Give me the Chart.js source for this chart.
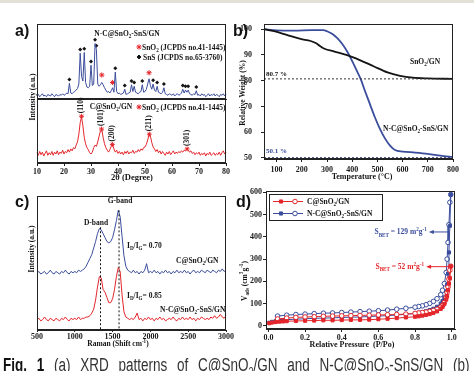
<!DOCTYPE html>
<html>
<head>
<meta charset="utf-8">
<script src="https://cdn.jsdelivr.net/npm/chart.js@4.4.1/dist/chart.umd.min.js"></script>
<style>
  html, body { margin: 0; padding: 0; background: #fff; }
  #page { position: relative; width: 474px; height: 371px; overflow: hidden; background: #fff; }
  #page canvas { position: absolute; left: 0; top: 0; }
  .band { position: absolute; left: 0; top: 0; width: 474px; height: 3px; background: #e3e0d8; }
  .tag { position: absolute; font: bold 16px "Liberation Sans", Arial, sans-serif; color: #111; line-height: 16px; }
  .caption { position: absolute; left: 3px; top: 356px; white-space: nowrap; font: 18px "Liberation Sans", Arial, sans-serif;
             color: #333; line-height: 18px; word-spacing: 8px; transform: scaleX(0.75); transform-origin: 0 0; }
  .caption b { color: #111; }
  .caption sub { font-size: 12px; }
</style>
</head>
<body>
<div id="page">
  <div class="band"></div>
  <canvas id="chartA1" width="474" height="371"></canvas>
  <canvas id="chartA2" width="474" height="371"></canvas>
  <canvas id="chartB" width="474" height="371"></canvas>
  <canvas id="chartC" width="474" height="371"></canvas>
  <canvas id="chartD" width="474" height="371"></canvas>
  <div class="tag" style="left:15px;top:23px">a)</div>
  <div class="tag" style="left:233px;top:23px">b)</div>
  <div class="tag" style="left:15px;top:194px">c)</div>
  <div class="tag" style="left:236px;top:194px">d)</div>
  <div class="caption"><b>Fig. 1</b> (a) XRD patterns of C@SnO<sub>2</sub>/GN and N-C@SnO<sub>2</sub>-SnS/GN (b)</div>
</div>
<script>
// ---------- data ----------
// (a) XRD, 2theta in degrees
const xrdAngle = [
  10,10.5,11,11.5,12,12.5,13,13.5,14,14.5,
  15,15.5,16,16.5,17,17.5,18,18.5,19,19.5,
  20,20.5,21,21.5,22,22.5,23,23.5,24,24.5,
  25,25.5,26,26.5,27,27.5,28,28.5,29,29.5,
  30,30.5,31,31.5,32,32.5,33,33.5,34,34.5,
  35,35.5,36,36.5,37,37.5,38,38.5,39,39.5,
  40,40.5,41,41.5,42,42.5,43,43.5,44,44.5,
  45,45.5,46,46.5,47,47.5,48,48.5,49,49.5,
  50,50.5,51,51.5,52,52.5,53,53.5,54,54.5,
  55,55.5,56,56.5,57,57.5,58,58.5,59,59.5,
  60,60.5,61,61.5,62,62.5,63,63.5,64,64.5,
  65,65.5,66,66.5,67,67.5,68,68.5,69,69.5,
  70,70.5,71,71.5,72,72.5,73,73.5,74,74.5,
  75,75.5,76,76.5,77,77.5,78,78.5,79,79.5,
  80];
// N-C@SnO2-SnS/GN (upper pattern)
const xrdComposite = [
  4,6,3,5,7,4,5,3,6,5,
  4,7,5,3,6,5,4,6,5,7,
  5,6,8,7,21,8,7,9,10,12,
  14,20,61,30,24,62,22,16,15,17,
  45,18,20,74,66,20,17,19,22,19,
  15,12,9,10,8,11,15,9,36,10,
  7,8,6,7,8,13,6,7,8,9,
  19,10,17,9,8,7,9,10,19,9,
  10,13,20,27,18,13,20,12,10,17,
  9,8,7,9,15,7,6,5,7,6,
  5,7,4,6,7,5,6,8,13,8,
  12,9,12,7,6,5,7,6,11,5,
  6,4,7,5,6,3,5,7,4,6,
  5,7,4,6,5,3,6,5,7,4,
  6];
// C@SnO2/GN (lower pattern)
const xrdSnO2 = [
  16,12,18,13,17,11,15,19,12,16,
  13,18,12,17,14,19,13,17,15,20,
  14,18,16,21,17,22,19,24,22,28,
  33,45,63,72,58,40,30,24,21,16,
  14,17,24,28,26,33,42,50,52,40,
  30,24,20,17,21,26,28,22,17,20,
  15,18,14,17,13,18,15,19,14,17,
  16,20,15,18,17,21,18,22,20,24,
  25,29,36,44,42,32,25,22,18,21,
  16,19,14,18,15,12,17,14,18,13,
  16,19,14,17,15,18,16,19,17,20,
  19,22,20,17,19,15,17,13,16,14,
  17,12,15,13,16,11,15,13,17,12,
  14,16,12,15,13,17,12,16,19,14,
  17];
const snsMarkAngle = [22, 26, 27.5, 30, 31.5, 32, 39, 42.5, 45, 46, 49, 53, 54.5, 57, 64, 65, 66, 69];
const snsMarkLevel = [26, 66, 67, 50, 79, 71, 41, 18, 24, 22, 24, 25, 22, 20, 18, 17, 17, 16];
const sno2MarkAngle = [34, 38, 51.5];
const sno2MarkLevel = [32, 22, 35];
const sno2Hkl = ['(110)', '(101)', '(200)', '(211)', '(301)'];
const sno2PeakAngle = [26.5, 33.9, 37.9, 51.6, 65.6];
const sno2PeakTop = [73, 53, 29, 45, 22];

// (b) TGA
const tgaSnO2Temp = [50, 90, 140, 195, 235, 255, 270, 290, 330, 380, 430, 485, 540, 590, 640, 700, 800];
const tgaSnO2Wt = [100, 99.2, 97.8, 96.2, 95.4, 94.6, 93.6, 92.4, 91.3, 89.9, 88.0, 85.6, 83.2, 81.9, 81.2, 80.9, 80.7];
const tgaNCTemp = [50, 100, 170, 240, 285, 300, 320, 340, 360, 380, 400, 420, 435, 450, 470, 490, 510, 530, 550, 570, 600, 650, 700, 750, 800];
const tgaNCWt = [100, 99.5, 99.4, 99.6, 99.6, 99.2, 98.2, 96.6, 94.3, 91.3, 87.6, 83.5, 80.3, 76.2, 71.0, 65.8, 61.3, 57.6, 54.8, 53.1, 52.5, 52.1, 51.6, 50.9, 50.3];
const tgaSpan = [50, 800];
const tgaResidual = [80.7, 50.1];

// (c) Raman
const ramanShift = [
  500,525,550,575,600,625,650,675,700,725,
  750,775,800,825,850,875,900,925,950,975,
  1000,1025,1050,1075,1100,1125,1150,1175,1200,1225,
  1250,1275,1300,1325,1350,1375,1400,1425,1450,1475,
  1500,1525,1550,1575,1600,1625,1650,1675,1700,1725,
  1750,1775,1800,1825,1850,1875,1900,1925,1950,1975,
  2000,2025,2050,2075,2100,2125,2150,2175,2200,2225,
  2250,2275,2300,2325,2350,2375,2400,2425,2450,2475,
  2500,2525,2550,2575,2600,2625,2650,2675,2700,2725,
  2750,2775,2800,2825,2850,2875,2900,2925,2950,2975,
  3000];
const ramanC = [
  44,45,43,44,45,43,44,46,44,43,
  45,44,43,45,44,46,44,43,45,44,
  45,44,46,45,46,47,49,52,55,58,
  63,68,74,78,77,74,71,68,67,68,
  71,77,84,92,87,72,57,49,46,45,
  44,46,44,45,43,45,44,46,51,44,
  45,44,46,44,45,43,45,44,46,44,
  45,43,45,44,46,44,45,44,46,44,
  45,43,45,46,44,45,44,46,45,44,
  46,45,44,46,45,44,46,45,47,45,
  46];
const ramanNC = [
  8,9,7,8,10,8,7,9,8,7,
  9,8,7,9,8,10,8,7,9,8,
  9,8,10,8,9,9,10,10,11,13,
  16,23,33,41,40,31,29,25,21,21,
  24,31,41,48,45,27,14,10,9,8,
  9,8,10,13,8,9,7,9,8,10,
  8,9,7,9,8,10,8,9,7,8,
  9,8,10,8,7,9,8,10,8,9,
  8,10,8,9,7,9,8,10,9,8,
  9,8,10,9,11,9,10,12,10,9,
  11];
const ramanBandShift = [1340, 1585];
const ramanBandTop = [79, 92];

// (d) N2 isotherms
const betAdsP = [0.005, 0.02, 0.04, 0.06, 0.08, 0.1, 0.15, 0.2, 0.25, 0.3, 0.35, 0.4, 0.45, 0.5, 0.55, 0.6, 0.65, 0.7, 0.75, 0.8,
  0.82, 0.84, 0.86, 0.88, 0.9, 0.92, 0.94, 0.95, 0.96, 0.97, 0.975, 0.98, 0.985, 0.99, 0.995];
const betDesP = [0.995, 0.99, 0.985, 0.98, 0.975, 0.97, 0.96, 0.95, 0.94, 0.92, 0.9, 0.88, 0.86, 0.84, 0.82, 0.8,
  0.75, 0.7, 0.65, 0.6, 0.55, 0.5, 0.45, 0.4, 0.35, 0.3, 0.25, 0.2, 0.15, 0.1, 0.05];
const betCAds = [12, 15, 17, 19, 20, 21, 22, 23, 24, 25, 25, 26, 27, 27, 28, 30, 32, 35, 38, 41,
  43, 46, 49, 53, 58, 65, 76, 85, 98, 118, 135, 160, 190, 215, 268];
const betCDes = [268, 250, 210, 175, 150, 128, 105, 92, 84, 75, 69, 65, 62, 60, 58, 56,
  53, 51, 50, 49, 48, 47, 46, 45, 44, 43, 41, 40, 38, 35, 31];
const betNCAds = [14, 18, 21, 24, 26, 28, 30, 32, 34, 35, 36, 38, 39, 40, 42, 44, 46, 49, 52, 56,
  59, 62, 66, 71, 77, 86, 100, 112, 128, 155, 185, 235, 330, 450, 590];
const betNCDes = [590, 555, 455, 375, 300, 240, 190, 160, 140, 122, 110, 101, 95, 90, 87, 84,
  79, 75, 71, 68, 66, 64, 62, 60, 58, 57, 55, 53, 51, 48, 44];

// ---------- helpers ----------
const W = 474, H = 371, YW = 30, XH = 22;
const SERIF = '"Liberation Serif", "Times New Roman", serif';
const BLUE = '#3a4d9c', RED = '#e3262b', DARK = '#141414';

function pts(xs, ys) {
  return xs.map((x, i) => ({ x: x, y: ys[i] }));
}

function font(size) {
  return 'bold ' + size + 'px ' + SERIF;
}

// parts: strings or [text, 'sub'|'sup']
function rich(ctx, parts, x, y, size, color, align) {
  ctx.save();
  ctx.fillStyle = color;
  ctx.textBaseline = 'alphabetic';
  ctx.textAlign = 'left';
  const segs = parts.map(p => typeof p === 'string' ? { t: p, m: '' } : { t: p[0], m: p[1] });
  let total = 0;
  segs.forEach(s => {
    ctx.font = font(s.m ? size * 0.68 : size);
    s.w = ctx.measureText(s.t).width;
    total += s.w;
  });
  let cx = align === 'center' ? x - total / 2 : align === 'right' ? x - total : x;
  segs.forEach(s => {
    ctx.font = font(s.m ? size * 0.68 : size);
    const dy = s.m === 'sub' ? size * 0.28 : s.m === 'sup' ? -size * 0.42 : 0;
    ctx.fillText(s.t, cx, y + dy);
    cx += s.w;
  });
  ctx.restore();
}

function richUp(ctx, parts, cx, cy, size, color) {
  ctx.save();
  ctx.translate(cx, cy);
  ctx.rotate(-Math.PI / 2);
  rich(ctx, parts, 0, size * 0.35, size, color, 'center');
  ctx.restore();
}

function marker(ctx, style, x, y, r, fill, stroke) {
  ctx.save();
  ctx.fillStyle = fill;
  ctx.strokeStyle = stroke;
  ctx.lineWidth = 1;
  Chart.helpers.drawPoint(ctx, { pointStyle: style, radius: r, rotation: 0, borderWidth: 1 }, x, y);
  ctx.restore();
}

function axis(o) {
  const hasTicks = o.step !== undefined;
  return {
    type: 'linear', min: o.min, max: o.max,
    afterFit(s) { if (s.isHorizontal()) s.height = XH; else s.width = YW; },
    ticks: {
      display: hasTicks && o.labels !== false,
      stepSize: o.step, includeBounds: false, autoSkip: false, maxRotation: 0,
      padding: o.pad === undefined ? 2 : o.pad,
      color: '#1a1a1a', font: { family: SERIF, size: 8, weight: 'bold' },
      callback: o.fmt || (v => String(v))
    },
    grid: { display: hasTicks && o.marks !== false, drawOnChartArea: false, drawTicks: true,
            tickLength: o.tick === undefined ? 3 : o.tick, color: '#222' },
    border: { display: true, color: '#222', width: 1 }
  };
}

const framePlugin = {
  id: 'frame',
  afterDraw(chart) {
    const a = chart.chartArea, ctx = chart.ctx;
    ctx.save();
    ctx.strokeStyle = '#222';
    ctx.lineWidth = 1;
    ctx.strokeRect(Math.round(a.left) + 0.5, Math.round(a.top) + 0.5, Math.round(a.width) - 1, Math.round(a.height) - 1);
    ctx.restore();
  }
};

function panel(id, area, scales, datasets, extra) {
  return new Chart(document.getElementById(id), {
    type: 'scatter',
    data: { datasets: datasets },
    options: {
      responsive: false, animation: false, events: [],
      layout: { autoPadding: false,
        padding: { left: area.l - YW, top: area.t, right: W - area.r, bottom: H - area.b - XH } },
      plugins: { legend: { display: false }, tooltip: { enabled: false } },
      scales: scales
    },
    plugins: [framePlugin, { id: 'notes', afterDraw(chart) { extra(chart, chart.ctx); } }]
  });
}

function line(data, color, width, more) {
  return Object.assign({ data: data, showLine: true, borderColor: color, borderWidth: width,
    pointRadius: 0, tension: 0, clip: 2 }, more || {});
}

const T_NC = ['N-C@SnO', ['2', 'sub'], '-SnS/GN'];
const T_C = ['C@SnO', ['2', 'sub'], '/GN'];

// ---------- (a) upper ----------
panel('chartA1', { l: 37, t: 24, r: 226, b: 99 },
  { x: axis({ min: 10, max: 80 }), y: axis({ min: 0, max: 100 }) },
  [
    line(pts(xrdAngle, xrdComposite), BLUE, 1),
    { data: pts(snsMarkAngle, snsMarkLevel), pointStyle: 'rectRot', pointRadius: 2,
      backgroundColor: DARK, borderColor: DARK, borderWidth: 0 },
    { data: pts(sno2MarkAngle, sno2MarkLevel), pointStyle: 'star', pointRadius: 2.6,
      backgroundColor: RED, borderColor: RED, borderWidth: 1 }
  ],
  (chart, ctx) => {
    rich(ctx, T_NC, 127, 36, 7.5, DARK, 'center');
    marker(ctx, 'star', 139, 47, 2.6, RED, RED);
    rich(ctx, ['SnO', ['2', 'sub'], ' (JCPDS no.41-1445)'], 142, 50, 7.5, DARK, 'left');
    marker(ctx, 'rectRot', 139, 57, 2, DARK, DARK);
    rich(ctx, ['SnS (JCPDS no.65-3760)'], 143, 60, 7.5, DARK, 'left');
  });

// ---------- (a) lower ----------
panel('chartA2', { l: 37, t: 99, r: 226, b: 163 },
  { x: axis({ min: 10, max: 80, step: 10, pad: 1 }), y: axis({ min: 0, max: 100 }) },
  [
    line(pts(xrdAngle, xrdSnO2), RED, 1),
    { data: pts(sno2PeakAngle, sno2PeakTop), pointStyle: 'star', pointRadius: 2.4,
      backgroundColor: RED, borderColor: RED, borderWidth: 1 }
  ],
  (chart, ctx) => {
    const xs = chart.scales.x, ys = chart.scales.y;
    rich(ctx, T_C, 111, 109, 7.5, DARK, 'center');
    marker(ctx, 'star', 139, 107, 2.6, RED, RED);
    rich(ctx, ['SnO', ['2', 'sub'], ' (JCPDS no.41-1445)'], 142, 110, 7.5, DARK, 'left');
    sno2Hkl.forEach((h, i) => {
      const px = xs.getPixelForValue(sno2PeakAngle[i]);
      const py = ys.getPixelForValue(sno2PeakTop[i]) - 3;
      ctx.save();
      ctx.translate(px, py);
      ctx.rotate(-Math.PI / 2);
      ctx.font = font(7.5);
      ctx.fillStyle = DARK;
      ctx.textAlign = 'left';
      ctx.textBaseline = 'middle';
      ctx.fillText(h, 0, 0);
      ctx.restore();
    });
    rich(ctx, ['2\u03b8 (Degree)'], 132, 180, 8.5, DARK, 'center');
    richUp(ctx, ['Intensity (a.u.)'], 32, 97, 7.5, DARK);
  });

// ---------- (b) TGA ----------
panel('chartB', { l: 264, t: 24, r: 453, b: 159 },
  { x: axis({ min: 50, max: 800, step: 100, pad: 3 }),
    y: axis({ min: 49.6, max: 102, step: 10, pad: 9 }) },
  [
    line(pts(tgaSpan, [tgaResidual[0], tgaResidual[0]]), '#333', 1, { borderDash: [2, 2] }),
    line(pts(tgaSpan, [tgaResidual[1], tgaResidual[1]]), '#2b3570', 1, { borderDash: [2, 2] }),
    line(pts(tgaSnO2Temp, tgaSnO2Wt), DARK, 1.8, { cubicInterpolationMode: 'monotone' }),
    line(pts(tgaNCTemp, tgaNCWt), BLUE, 1.8, { cubicInterpolationMode: 'monotone' })
  ],
  (chart, ctx) => {
    rich(ctx, [tgaResidual[0].toFixed(1) + ' %'], 266, 76, 7, DARK, 'left');
    rich(ctx, [tgaResidual[1].toFixed(1) + ' %'], 266, 153, 7, BLUE, 'left');
    rich(ctx, ['SnO', ['2', 'sub'], '/GN'], 410, 64, 7.5, DARK, 'left');
    rich(ctx, T_NC, 383, 131, 7.5, DARK, 'left');
    rich(ctx, ['Temperature (\u00b0C)'], 362, 179, 8, DARK, 'center');
    richUp(ctx, ['Relative Weight (%)'], 242, 93, 7.5, DARK);
  });

// ---------- (c) Raman ----------
panel('chartC', { l: 37, t: 196, r: 226, b: 330 },
  { x: axis({ min: 500, max: 3000, step: 500, pad: 0, tick: 2 }), y: axis({ min: 0, max: 103 }) },
  [
    line(pts([ramanBandShift[0], ramanBandShift[0]], [ramanBandTop[0], 0]), DARK, 1, { borderDash: [2, 2] }),
    line(pts([ramanBandShift[1], ramanBandShift[1]], [ramanBandTop[1], 0]), DARK, 1, { borderDash: [2, 2] }),
    line(pts(ramanShift, ramanC), BLUE, 1),
    line(pts(ramanShift, ramanNC), RED, 1)
  ],
  (chart, ctx) => {
    rich(ctx, ['G-band'], 120, 203, 7.5, DARK, 'center');
    rich(ctx, ['D-band'], 96, 225, 7.5, DARK, 'center');
    rich(ctx, ['I', ['D', 'sub'], '/I', ['G', 'sub'], '= 0.70'], 127, 248, 7.5, DARK, 'left');
    rich(ctx, T_C, 176, 263, 7.5, DARK, 'left');
    rich(ctx, ['I', ['D', 'sub'], '/I', ['G', 'sub'], '= 0.85'], 127, 298, 7.5, DARK, 'left');
    rich(ctx, T_NC, 160, 312, 7.5, DARK, 'left');
    rich(ctx, ['Raman (Shift cm', ['-1', 'sup'], ')'], 118, 346, 7.5, DARK, 'center');
    richUp(ctx, ['Intensity (a.u.)'], 31, 249, 7.5, DARK);
  });

// ---------- (d) BET ----------
panel('chartD', { l: 266, t: 191, r: 455, b: 329 },
  { x: axis({ min: -0.013, max: 1.018, step: 0.2, pad: 1, fmt: v => v.toFixed(1) }),
    y: axis({ min: -14, max: 606, step: 100, pad: 1 }) },
  [
    line(pts(betAdsP, betCAds), RED, 1, { pointRadius: 2.2, pointStyle: 'rect', backgroundColor: RED, pointBorderColor: RED }),
    line(pts(betDesP, betCDes), RED, 1, { pointRadius: 2.3, pointStyle: 'circle', backgroundColor: '#fff', pointBorderColor: RED }),
    line(pts(betAdsP, betNCAds), BLUE, 1, { pointRadius: 2.2, pointStyle: 'rect', backgroundColor: BLUE, pointBorderColor: BLUE }),
    line(pts(betDesP, betNCDes), BLUE, 1, { pointRadius: 2.3, pointStyle: 'circle', backgroundColor: '#fff', pointBorderColor: BLUE })
  ],
  (chart, ctx) => {
    const xs = chart.scales.x, ys = chart.scales.y;
    // legend box
    ctx.save();
    ctx.strokeStyle = '#222';
    ctx.lineWidth = 1;
    ctx.strokeRect(269.5, 194.5, 113, 26);
    [[RED, 201.5, T_C], [BLUE, 213.5, T_NC]].forEach(row => {
      ctx.strokeStyle = row[0];
      ctx.beginPath();
      ctx.moveTo(273, row[1]);
      ctx.lineTo(303, row[1]);
      ctx.stroke();
      marker(ctx, 'rect', 281, row[1], 2.2, row[0], row[0]);
      marker(ctx, 'circle', 295, row[1], 2.3, '#fff', row[0]);
      rich(ctx, row[2], 307, row[1] + 2.7, 7.5, DARK, 'left');
    });
    ctx.restore();
    // S_BET notes with arrows
    [[BLUE, 422, '129', 0.99, 0.875], [RED, 266, '52', 1.0, 0.86]].forEach(n => {
      const py = ys.getPixelForValue(n[1]);
      const x0 = xs.getPixelForValue(n[3]), x1 = xs.getPixelForValue(n[4]);
      ctx.save();
      ctx.strokeStyle = n[0];
      ctx.fillStyle = n[0];
      ctx.lineWidth = 1;
      ctx.beginPath();
      ctx.moveTo(x0, py);
      ctx.lineTo(x1 + 3, py);
      ctx.stroke();
      ctx.beginPath();
      ctx.moveTo(x1, py);
      ctx.lineTo(x1 + 5, py - 2);
      ctx.lineTo(x1 + 5, py + 2);
      ctx.closePath();
      ctx.fill();
      ctx.restore();
      rich(ctx, ['S', ['BET', 'sub'], ' = ' + n[2] + ' m', ['2', 'sup'], 'g', ['-1', 'sup']], x1 - 2, py + 2.5, 7.5, n[0], 'right');
    });
    rich(ctx, ['Relative Pressure  (P/Po)'], 352, 347, 8, DARK, 'center');
    richUp(ctx, ['V', ['ads', 'sub'], ' (cm', ['3', 'sup'], 'g', ['-1', 'sup'], ')'], 244, 281, 7.5, DARK);
  });
</script>
</body>
</html>
